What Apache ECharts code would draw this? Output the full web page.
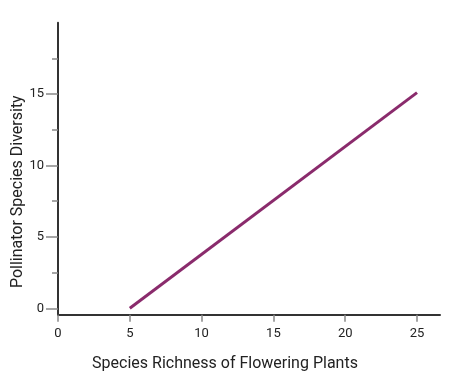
<!DOCTYPE html>
<html>
<head>
<meta charset="utf-8">
<script src="https://cdn.jsdelivr.net/npm/echarts@6/dist/echarts.min.js"></script>
<style>
html,body{margin:0;padding:0;background:#fff;}
#chart{width:450px;height:383px;}
</style>
</head>
<body>
<div id="chart"></div>
<script>
const plantRichness = [5, 25];
const pollinatorDiversity = [0, 15.1];
const yMajorTicks = [0, 5, 10, 15];
const yMinorTicks = [2.5, 7.5, 12.5, 17.5];
const xTicks = [0, 5, 10, 15, 20, 25];
const xName = 'Species Richness of Flowering Plants';
const yName = 'Pollinator Species Diversity';

const FONT = 'Roboto';
const chart = echarts.init(document.getElementById('chart'), null, {renderer: 'canvas'});
const yBase = {
  type: 'value', min: -0.45, max: 20, position: 'left',
  splitLine: {show: false}
};
chart.setOption({
  animation: false,
  grid: {left: 58, top: 22.7, right: 10, bottom: 68.3, containLabel: false, outerBoundsMode: 'none'},
  xAxis: {
    type: 'value', min: 0, max: 26.6, interval: 5,
    name: xName, nameLocation: 'middle', nameGap: 41, nameMoveOverlap: false,
    nameTextStyle: {fontFamily: FONT, fontSize: 16, color: '#222', padding: [0, 48, 0, 0]},
    axisLine: {show: true, onZero: false, lineStyle: {color: '#333', width: 2}},
    axisTick: {show: true, length: 7, lineStyle: {color: '#888', width: 1.5}, customValues: xTicks},
    axisLabel: {fontFamily: FONT, fontSize: 13, color: '#222', margin: 13, customValues: xTicks},
    splitLine: {show: false}
  },
  yAxis: [
    Object.assign({}, yBase, {
      name: yName, nameLocation: 'middle', nameGap: 32, nameRotate: 90, nameMoveOverlap: false,
      nameTextStyle: {fontFamily: FONT, fontSize: 16, color: '#222', padding: [0, 46, 0, 0]},
      axisLine: {show: true, onZero: false, lineStyle: {color: '#333', width: 2}},
      axisTick: {show: true, length: 12, lineStyle: {color: '#888', width: 1.5}, customValues: yMajorTicks},
      axisLabel: {fontFamily: FONT, fontSize: 13, color: '#222', margin: 14, customValues: yMajorTicks}
    }),
    Object.assign({}, yBase, {
      axisLine: {show: false, onZero: false},
      axisTick: {show: true, length: 6, lineStyle: {color: '#888', width: 1.5}, customValues: yMinorTicks},
      axisLabel: {show: false}
    })
  ],
  series: [{
    type: 'line',
    data: plantRichness.map((x, i) => [x, pollinatorDiversity[i]]),
    showSymbol: false,
    lineStyle: {color: '#8a2b6c', width: 3},
    itemStyle: {color: '#8a2b6c'}
  }]
});
</script>
</body>
</html>
